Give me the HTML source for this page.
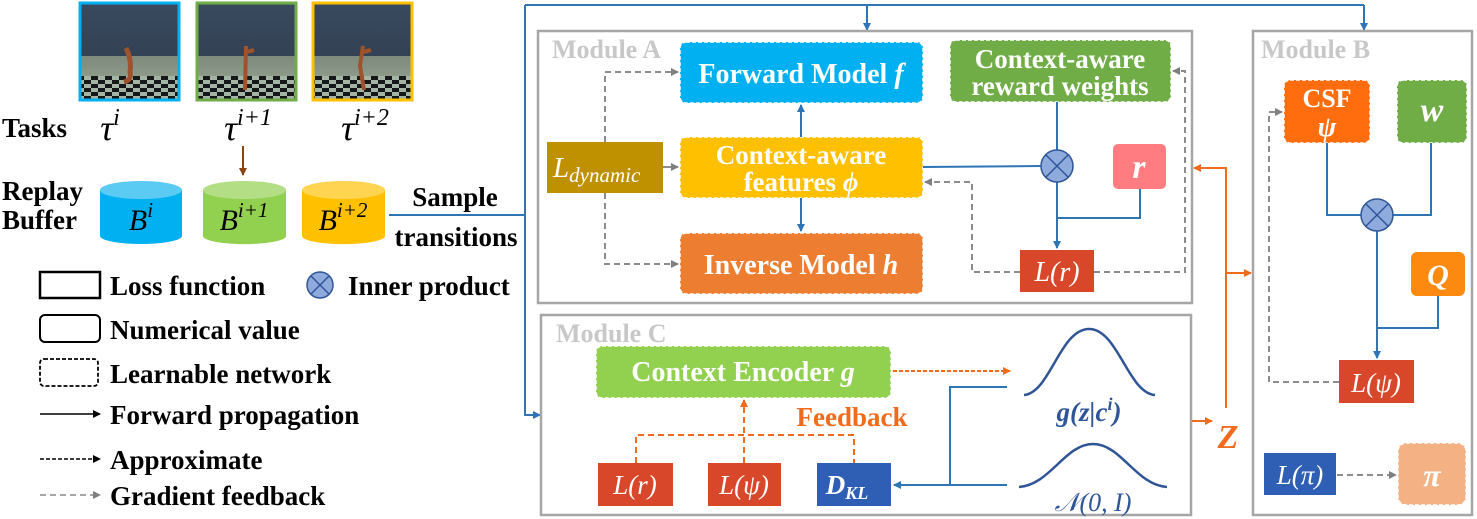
<!DOCTYPE html>
<html><head><meta charset="utf-8"><style>
html,body{margin:0;padding:0;background:#fff;}
svg{display:block;}
text{font-family:"Liberation Serif",serif;font-weight:bold;}
.w{fill:#fff;}
.it{font-style:italic;}
</style></head><body>
<svg width="1477" height="519" viewBox="0 0 1477 519" xmlns="http://www.w3.org/2000/svg">
<defs>
<marker id="ab" markerWidth="8" markerHeight="8" refX="7" refY="4" orient="auto" markerUnits="userSpaceOnUse"><path d="M0,0 L8,4 L0,8z" fill="#2e75b6"/></marker>
<marker id="ao" markerWidth="8" markerHeight="8" refX="7" refY="4" orient="auto" markerUnits="userSpaceOnUse"><path d="M0,0 L8,4 L0,8z" fill="#f26b1d"/></marker>
<marker id="ag" markerWidth="8" markerHeight="8" refX="7" refY="4" orient="auto" markerUnits="userSpaceOnUse"><path d="M0,0 L8,4 L0,8z" fill="#7f7f7f"/></marker>
<marker id="ak" markerWidth="8" markerHeight="8" refX="7" refY="4" orient="auto" markerUnits="userSpaceOnUse"><path d="M0,0 L8,4 L0,8z" fill="#000"/></marker>
<marker id="abr" markerWidth="8" markerHeight="8" refX="7" refY="4" orient="auto" markerUnits="userSpaceOnUse"><path d="M0,0 L8,4 L0,8z" fill="#8b4513"/></marker>
<linearGradient id="sky" x1="0" y1="0" x2="0" y2="1"><stop offset="0" stop-color="#3a4a5e"/><stop offset="1" stop-color="#2c3a4c"/></linearGradient>
<pattern id="chk" width="14" height="8" patternUnits="userSpaceOnUse"><rect width="14" height="8" fill="#b9c9b4"/><rect width="7" height="4" fill="#111"/><rect x="7" y="4" width="7" height="4" fill="#111"/></pattern>
<linearGradient id="fl" x1="0" y1="0" x2="0" y2="1"><stop offset="0" stop-color="#7d8a7c"/><stop offset="1" stop-color="#8d9a8a"/></linearGradient>
</defs>

<!-- task images -->
<g>
<rect x="80" y="3" width="99" height="97" fill="url(#sky)" stroke="#00b0f0" stroke-width="3"/>
<rect x="81.5" y="56" width="96" height="20" fill="url(#fl)"/>
<rect x="81.5" y="76" width="96" height="22.5" fill="url(#chk)" opacity="0.85"/>
<path d="M126,48 Q132,60 130,72 Q132,80 124,82" stroke="#a0522d" stroke-width="5" fill="none"/>
<rect x="197" y="3" width="99" height="97" fill="url(#sky)" stroke="#70ad47" stroke-width="3"/>
<rect x="198.5" y="56" width="96" height="20" fill="url(#fl)"/>
<rect x="198.5" y="76" width="96" height="22.5" fill="url(#chk)" opacity="0.85"/>
<path d="M246,46 L245,90 M246,52 L254,50" stroke="#a0522d" stroke-width="4" fill="none"/>
<rect x="313" y="3" width="99" height="97" fill="url(#sky)" stroke="#ffc000" stroke-width="3"/>
<rect x="314.5" y="56" width="96" height="20" fill="url(#fl)"/>
<rect x="314.5" y="76" width="96" height="22.5" fill="url(#chk)" opacity="0.85"/>
<path d="M363,46 L360,66 L364,90 M363,52 L371,50" stroke="#a0522d" stroke-width="4" fill="none"/>
</g>
<text x="2" y="137" font-size="27">Tasks</text>
<text x="110" y="140" font-size="36" class="it" text-anchor="middle" style="font-weight:normal">τ<tspan font-size="24" dy="-15">i</tspan></text>
<text x="248" y="140" font-size="36" class="it" text-anchor="middle" style="font-weight:normal">τ<tspan font-size="24" dy="-15">i+1</tspan></text>
<text x="365" y="140" font-size="36" class="it" text-anchor="middle" style="font-weight:normal">τ<tspan font-size="24" dy="-15">i+2</tspan></text>
<line x1="243" y1="146" x2="243" y2="175" stroke="#8b4513" stroke-width="2" marker-end="url(#abr)"/>
<text x="2" y="200" font-size="27">Replay</text>
<text x="2" y="229" font-size="27">Buffer</text>
<!-- cylinders -->
<g>
<path d="M100,190 L100,236 A41,8 0 0 0 182,236 L182,190z" fill="#00b0f0"/><ellipse cx="141" cy="190" rx="41" ry="9" fill="#5ccbf4"/>
<text x="141" y="230" font-size="30" class="it" text-anchor="middle" style="font-weight:normal">B<tspan font-size="21" dy="-13">i</tspan></text>
<path d="M203,190 L203,236 A41,8 0 0 0 286,236 L286,190z" fill="#92d050"/><ellipse cx="244.5" cy="190" rx="41.5" ry="9" fill="#b3de85"/>
<text x="244" y="230" font-size="30" class="it" text-anchor="middle" style="font-weight:normal">B<tspan font-size="21" dy="-13">i+1</tspan></text>
<path d="M302,190 L302,236 A41,8 0 0 0 385,236 L385,190z" fill="#ffc000"/><ellipse cx="343.5" cy="190" rx="41.5" ry="9" fill="#ffd450"/>
<text x="343" y="230" font-size="30" class="it" text-anchor="middle" style="font-weight:normal">B<tspan font-size="21" dy="-13">i+2</tspan></text>
</g>
<text x="455" y="206" font-size="27" text-anchor="middle">Sample</text>
<text x="456" y="246" font-size="27" text-anchor="middle">transitions</text>
<!-- blue trunk -->
<polyline points="389,215 525,215" fill="none" stroke="#2e75b6" stroke-width="2"/>
<polyline points="525,5 525,415 540,415" fill="none" stroke="#2e75b6" stroke-width="2" marker-end="url(#ab)"/>
<line x1="525" y1="5" x2="1364" y2="5" stroke="#2e75b6" stroke-width="2"/>
<line x1="867" y1="5" x2="867" y2="30" stroke="#2e75b6" stroke-width="2" marker-end="url(#ab)"/>
<line x1="1364" y1="5" x2="1364" y2="30" stroke="#2e75b6" stroke-width="2" marker-end="url(#ab)"/>

<!-- legend -->
<rect x="40" y="272" width="60" height="26" fill="none" stroke="#000" stroke-width="2.5"/>
<text x="110" y="295" font-size="27">Loss function</text>
<circle cx="320" cy="285" r="13" fill="#8faadc" stroke="#2f5597" stroke-width="1.5"/>
<path d="M311,276 L329,294 M329,276 L311,294" stroke="#2f5597" stroke-width="1.5"/>
<text x="348" y="295" font-size="27">Inner product</text>
<rect x="40" y="315" width="60" height="27" rx="5" fill="none" stroke="#000" stroke-width="2"/>
<text x="110" y="339" font-size="27">Numerical value</text>
<rect x="40" y="359" width="58" height="27" rx="4" fill="none" stroke="#000" stroke-width="1.8" stroke-dasharray="4,2"/>
<text x="110" y="383" font-size="27">Learnable network</text>
<line x1="40" y1="414" x2="100" y2="414" stroke="#000" stroke-width="1.5" marker-end="url(#ak)"/>
<text x="110" y="424" font-size="27">Forward propagation</text>
<line x1="40" y1="459" x2="100" y2="459" stroke="#000" stroke-width="1.5" stroke-dasharray="4,2" marker-end="url(#ak)"/>
<text x="110" y="469" font-size="27">Approximate</text>
<line x1="40" y1="495" x2="100" y2="495" stroke="#999" stroke-width="1.8" stroke-dasharray="6,4" marker-end="url(#ag)"/>
<text x="110" y="505" font-size="27">Gradient feedback</text>

<!-- Module A -->
<rect x="538" y="31" width="654" height="272" fill="none" stroke="#a6a6a6" stroke-width="2.5"/>
<text x="552" y="58" font-size="26" fill="#c8c8c8">Module A</text>
<rect x="680" y="42" width="243" height="61" rx="6" fill="#00b0f0" stroke="#fff" stroke-width="1.5" stroke-dasharray="4,2"/>
<text x="801" y="83" font-size="28" class="w" text-anchor="middle">Forward Model <tspan class="it">f</tspan></text>
<rect x="950" y="40" width="221" height="62" rx="6" fill="#70ad47" stroke="#fff" stroke-width="1.5" stroke-dasharray="4,2"/>
<text x="1060" y="68" font-size="27" class="w" text-anchor="middle">Context-aware</text>
<text x="1060" y="95" font-size="27" class="w" text-anchor="middle">reward weights</text>
<rect x="547" y="142" width="116" height="51" fill="#bf9000"/>
<text x="553" y="177" font-size="29" class="w it" style="font-weight:normal">L<tspan font-size="21" dy="5">dynamic</tspan></text>
<rect x="680" y="137" width="243" height="61" rx="6" fill="#ffc000" stroke="#fff" stroke-width="1.5" stroke-dasharray="4,2"/>
<text x="801" y="164" font-size="27" class="w" text-anchor="middle">Context-aware</text>
<text x="801" y="191" font-size="27" class="w" text-anchor="middle">features <tspan class="it">ϕ</tspan></text>
<rect x="680" y="233" width="243" height="61" rx="6" fill="#ed7d31" stroke="#fff" stroke-width="1.5" stroke-dasharray="4,2"/>
<text x="801" y="274" font-size="28" class="w" text-anchor="middle">Inverse Model <tspan class="it">h</tspan></text>
<rect x="1113" y="144" width="53" height="45" rx="5" fill="#ff7c80"/>
<text x="1139" y="178" font-size="34" class="w it" text-anchor="middle">r</text>
<rect x="1020" y="250" width="74" height="42" fill="#d9472b"/>
<text x="1057" y="281" font-size="28" class="w it" text-anchor="middle" style="font-weight:normal">L(r)</text>
<!-- A connections -->
<line x1="801" y1="137" x2="801" y2="105" stroke="#2e75b6" stroke-width="2" marker-end="url(#ab)"/>
<line x1="801" y1="198" x2="801" y2="231" stroke="#2e75b6" stroke-width="2" marker-end="url(#ab)"/>
<line x1="923" y1="167" x2="1041" y2="166" stroke="#2e75b6" stroke-width="2"/>
<line x1="1057" y1="102" x2="1057" y2="150" stroke="#2e75b6" stroke-width="2"/>
<line x1="1057" y1="182" x2="1057" y2="248" stroke="#2e75b6" stroke-width="2" marker-end="url(#ab)"/>
<polyline points="1140,189 1140,218 1057,218" fill="none" stroke="#2e75b6" stroke-width="2"/>
<circle cx="1057" cy="166" r="16" fill="#8faadc" stroke="#2f5597" stroke-width="1.5"/>
<path d="M1046,155 L1068,177 M1068,155 L1046,177" stroke="#2f5597" stroke-width="1.5"/>
<polyline points="605,142 605,72 678,72" fill="none" stroke="#8c8c8c" stroke-width="2" stroke-dasharray="6,4" marker-end="url(#ag)"/>
<polyline points="605,193 605,264 678,264" fill="none" stroke="#8c8c8c" stroke-width="2" stroke-dasharray="6,4" marker-end="url(#ag)"/>
<line x1="663" y1="167" x2="678" y2="167" stroke="#8c8c8c" stroke-width="2" marker-end="url(#ag)"/>
<polyline points="1020,272 972,272 972,182 925,182" fill="none" stroke="#8c8c8c" stroke-width="2" stroke-dasharray="6,4" marker-end="url(#ag)"/>
<polyline points="1094,272 1185,272 1185,71 1173,71" fill="none" stroke="#8c8c8c" stroke-width="2" stroke-dasharray="6,4" marker-end="url(#ag)"/>

<!-- Module C -->
<rect x="541" y="315" width="650" height="200" fill="none" stroke="#a6a6a6" stroke-width="2.5"/>
<text x="556" y="342" font-size="26" fill="#c8c8c8">Module C</text>
<rect x="596" y="346" width="295" height="52" rx="6" fill="#92d050" stroke="#fff" stroke-width="1.5" stroke-dasharray="4,2"/>
<text x="743" y="381" font-size="28" class="w" text-anchor="middle">Context Encoder <tspan class="it">g</tspan></text>
<line x1="893" y1="371" x2="1010" y2="371" stroke="#f26b1d" stroke-width="2" stroke-dasharray="4,2" marker-end="url(#ao)"/>
<path d="M1024,395 C1050,393 1060,329 1089,329 C1118,329 1128,393 1155,395" fill="none" stroke="#2f5597" stroke-width="2.5"/>
<text x="1089" y="421" font-size="27" fill="#2f5597" class="it" text-anchor="middle">g(z|c<tspan font-size="18" dy="-11">i</tspan><tspan dy="11">)</tspan></text>
<path d="M1019,487 C1050,485 1065,444 1093,444 C1121,444 1136,485 1167,487" fill="none" stroke="#2f5597" stroke-width="2.5"/>
<text x="1093" y="511" font-size="26" fill="#2f5597" class="it" text-anchor="middle" style="font-weight:normal">𝒩(0, I)</text>
<polyline points="1007,387 950,387 950,485" fill="none" stroke="#2e75b6" stroke-width="2"/>
<line x1="1007" y1="485" x2="894" y2="485" stroke="#2e75b6" stroke-width="2" marker-end="url(#ab)"/>
<rect x="598" y="463" width="75" height="43" fill="#d9472b"/>
<text x="635" y="494" font-size="27" class="w it" text-anchor="middle" style="font-weight:normal">L(r)</text>
<rect x="708" y="463" width="73" height="43" fill="#d9472b"/>
<text x="744" y="494" font-size="27" class="w it" text-anchor="middle" style="font-weight:normal">L(ψ)</text>
<rect x="817" y="463" width="74" height="43" fill="#2f5fb5"/>
<text x="847" y="494" font-size="27" class="w it" text-anchor="middle">D<tspan font-size="18" dy="5">KL</tspan></text>
<polyline points="636,463 636,435 854,435 854,463" fill="none" stroke="#f26b1d" stroke-width="2" stroke-dasharray="6,4"/>
<line x1="744" y1="463" x2="744" y2="400" stroke="#f26b1d" stroke-width="2" stroke-dasharray="6,4" marker-end="url(#ao)"/>
<text x="852" y="426" font-size="27" fill="#f26b1d" text-anchor="middle">Feedback</text>

<!-- orange z -->
<polyline points="1226,408 1226,168 1194,168" fill="none" stroke="#f26b1d" stroke-width="2" marker-end="url(#ao)"/>
<line x1="1226" y1="273" x2="1251" y2="273" stroke="#f26b1d" stroke-width="2" marker-end="url(#ao)"/>
<line x1="1192" y1="421" x2="1212" y2="421" stroke="#f26b1d" stroke-width="2" marker-end="url(#ao)"/>
<text x="1228" y="448" font-size="34" fill="#f26b1d" class="it" text-anchor="middle">Z</text>

<!-- Module B -->
<rect x="1253" y="31" width="219" height="484" fill="none" stroke="#a6a6a6" stroke-width="2.5"/>
<text x="1261" y="58" font-size="26" fill="#c8c8c8">Module B</text>
<rect x="1284" y="80" width="86" height="63" rx="6" fill="#ff6d0e" stroke="#fff" stroke-width="1.5" stroke-dasharray="4,2"/>
<text x="1327" y="107" font-size="26" class="w" text-anchor="middle">CSF</text>
<text x="1327" y="136" font-size="28" class="w it" text-anchor="middle">ψ</text>
<rect x="1397" y="80" width="70" height="63" rx="6" fill="#70ad47" stroke="#fff" stroke-width="1.5" stroke-dasharray="4,2"/>
<text x="1432" y="121" font-size="34" class="w it" text-anchor="middle">w</text>
<polyline points="1327,143 1327,215 1361,215" fill="none" stroke="#2e75b6" stroke-width="2"/>
<polyline points="1431,143 1431,215 1393,215" fill="none" stroke="#2e75b6" stroke-width="2"/>
<line x1="1377" y1="231" x2="1377" y2="358" stroke="#2e75b6" stroke-width="2" marker-end="url(#ab)"/>
<circle cx="1377" cy="215" r="16" fill="#8faadc" stroke="#2f5597" stroke-width="1.5"/>
<path d="M1366,204 L1388,226 M1388,204 L1366,226" stroke="#2f5597" stroke-width="1.5"/>
<rect x="1411" y="252" width="54" height="44" rx="6" fill="#fd8a10"/>
<text x="1438" y="285" font-size="30" class="w it" text-anchor="middle">Q</text>
<polyline points="1438,296 1438,328 1377,328" fill="none" stroke="#2e75b6" stroke-width="2"/>
<rect x="1339" y="360" width="75" height="43" fill="#d9472b"/>
<text x="1376" y="392" font-size="27" class="w it" text-anchor="middle" style="font-weight:normal">L(ψ)</text>
<polyline points="1339,382 1269,382 1269,112 1282,112" fill="none" stroke="#8c8c8c" stroke-width="2" stroke-dasharray="6,4" marker-end="url(#ag)"/>
<rect x="1264" y="453" width="72" height="42" fill="#2f5fb5"/>
<text x="1300" y="484" font-size="27" class="w it" text-anchor="middle" style="font-weight:normal">L(π)</text>
<rect x="1398" y="443" width="68" height="62" rx="8" fill="#f4b183" stroke="#fff" stroke-width="1.5" stroke-dasharray="4,2"/>
<text x="1432" y="486" font-size="32" class="w it" text-anchor="middle">π</text>
<line x1="1337" y1="475" x2="1396" y2="475" stroke="#8c8c8c" stroke-width="2" stroke-dasharray="6,4" marker-end="url(#ag)"/>
</svg>
</body></html>
